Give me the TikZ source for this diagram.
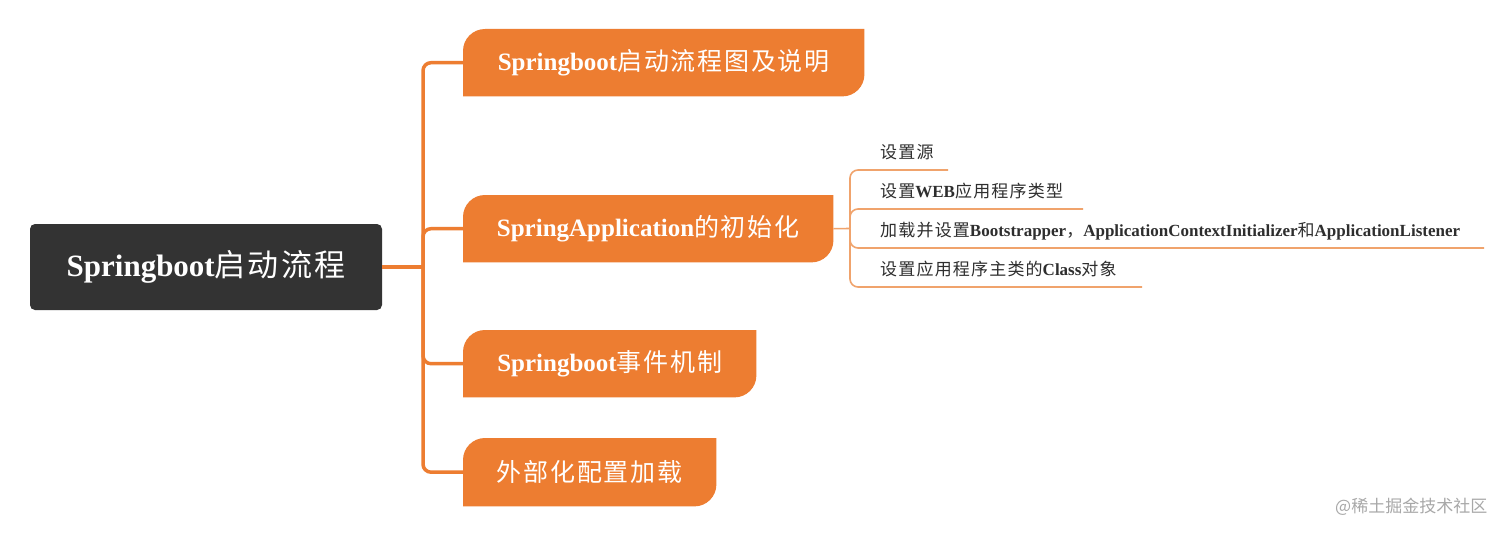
\documentclass[tikz,border=0pt]{standalone}
\usepackage{fontspec}
\setmainfont{Liberation Serif}
\newfontfamily\cjk[LetterSpace=7]{Noto Sans CJK SC}
\newfontfamily\wmfont{Noto Sans CJK SC}
\usetikzlibrary{backgrounds,calc}
\definecolor{orng}{HTML}{ED7D31}
\definecolor{subln}{HTML}{F0A36C}
\definecolor{rootc}{HTML}{333333}
\definecolor{subtxt}{HTML}{2E2E2E}
\definecolor{wmc}{HTML}{A8A8A8}
\newcommand\zh[1]{{\cjk\mdseries #1}}
\newcommand\branchbg[1]{%
  \fill[orng] let \p1=(#1.north west), \p2=(#1.south east) in
    (\x1,\y2) -- (\x1,\y1-22pt) arc[start angle=180,end angle=90,radius=22pt]
    -- (\x2,\y1) -- (\x2,\y2+22pt) arc[start angle=0,end angle=-90,radius=22pt]
    -- cycle;}
\begin{document}
\begin{tikzpicture}[x=1pt,y=1pt,
  rootbox/.style={fill=rootc, rounded corners=5pt, text=white, minimum width=352pt,
    minimum height=86pt, inner sep=0pt, font=\fontsize{31}{36}\selectfont\bfseries},
  branchbox/.style={text=white, minimum height=67pt, inner sep=0pt, anchor=north west,
    font=\fontsize{25}{30}\selectfont\bfseries},
  subitem/.style={text=subtxt, anchor=base west, inner sep=0pt,
    font=\fontsize{17}{20}\selectfont\bfseries},
  conn/.style={draw=orng, line width=3.5pt, rounded corners=8pt},
  subconn/.style={draw=subln, line width=1.6pt, rounded corners=8pt},
]
\useasboundingbox (0,0) rectangle (1512,-535);

\node[rootbox] (root) at (206,-267) {Springboot\zh{启动流程}};

\node[branchbox, minimum width=401pt] (b1) at (463,-29) {Springboot\zh{启动流程图及说明}};
\node[branchbox, minimum width=370pt] (b2) at (463,-195) {SpringApplication\zh{的初始化}};
\node[branchbox, minimum width=293pt] (b3) at (463,-330) {Springboot\zh{事件机制}};
\node[branchbox, minimum width=253pt, minimum height=68pt] (b4) at (463,-438) {\zh{外部化配置加载}};

\begin{scope}[on background layer]
  \fill[white] (0,0) rectangle (1512,-535);
  \branchbg{b1}
  \branchbg{b2}
  \branchbg{b3}
  \branchbg{b4}
\end{scope}

\coordinate (j) at (423,-267);
\draw[conn] (root.east) -- (j);
\draw[conn] (j) |- (b1.west);
\draw[conn] (j) |- (b2.west);
\draw[conn] (j) |- (b3.west);
\draw[conn] (j) |- (b4.west);

\node[subitem] (s1) at (880,-158.5) {\zh{设置源}};
\node[subitem] (s2) at (880,-197.5) {\zh{设置}WEB\zh{应用程序类型}};
\node[subitem] (s3) at (880,-236.5) {\zh{加载并设置}Bootstrapper\zh{，}ApplicationContextInitializer\zh{和}ApplicationListener};
\node[subitem] (s4) at (880,-275.5) {\zh{设置应用程序主类的}Class\zh{对象}};

\coordinate (sj) at (850,-228.5);
\coordinate (u1) at (948,-170);
\coordinate (u2) at (1083,-209);
\coordinate (u3) at (1484,-248);
\coordinate (u4) at (1142,-287);
\draw[subconn] (b2.east) -- (sj);
\draw[subconn] (sj) |- (u1);
\draw[subconn] (sj) |- (u2);
\draw[subconn] (sj) |- (u3);
\draw[subconn] (sj) |- (u4);

\node[anchor=west, text=wmc, inner sep=0pt, font=\wmfont\fontsize{17}{20}\selectfont] (wm) at (1335,-507) {@稀土掘金技术社区};
\end{tikzpicture}
\end{document}
